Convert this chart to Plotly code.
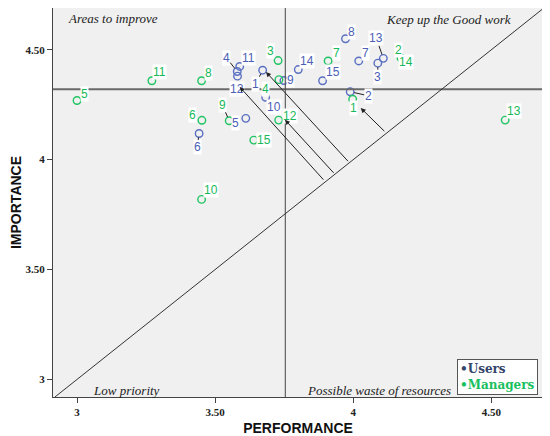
import plotly.graph_objects as go

# ---------------- data ----------------
item_ids = [str(i) for i in range(1, 16)]

users_performance = [3.672, 3.989, 4.089, 3.580, 3.611, 3.442, 4.020, 3.972,
                     3.749, 3.683, 3.589, 3.581, 4.109, 3.801, 3.889]
users_importance = [4.407, 4.309, 4.439, 4.401, 4.188, 4.119, 4.449, 4.550,
                    4.360, 4.284, 4.424, 4.380, 4.461, 4.410, 4.359]

managers_performance = [3.998, 4.173, 3.728, 3.731, 3.000, 3.452, 3.909, 3.451,
                        3.551, 3.451, 3.271, 3.730, 4.550, 4.191, 3.640]
managers_importance = [4.275, 4.463, 4.451, 4.364, 4.269, 4.179, 4.449, 4.359,
                       4.177, 3.819, 4.359, 4.180, 4.180, 4.444, 4.089]

performance_mean = 3.754
importance_mean = 4.32

# arrows: from the iso-priority diagonal to a point (tail x, tail y, head x, head y)
arrow_tail_x = [4.118, 3.934, 3.897, 3.986]
arrow_tail_y = [4.123, 3.933, 3.902, 3.986]
arrow_head_x = [4.027, 3.7525, 3.589, 3.684]
arrow_head_y = [4.235, 4.182, 4.331, 4.399]

x_tick_vals = [3, 3.5, 4, 4.5]
x_tick_text = ["3", "3.50", "4", "4.50"]
y_tick_vals = [3, 3.5, 4, 4.5]
y_tick_text = ["3", "3.50", "4", "4.50"]

quadrant_texts = ["Areas to improve", "Keep up the Good work",
                  "Low priority", "Possible waste of resources"]

# ---------------- styling ----------------
BLUE = "#5a6fc2"
BLUE_TXT = "#4b60b5"
GREEN = "#20c463"
GREEN_TXT = "#17b85a"

X_RANGE = [2.913, 4.687]
Y_RANGE = [2.92, 4.69]

# label offsets in pixels (dx, dy, leader line)
users_label_style = {
    "1": (-7, 14, True), "2": (18, 4, True), "3": (0, 14, True),
    "4": (-11, -14, True), "5": (-10, 5, False), "6": (-2, 14, True),
    "7": (7, -8, False), "8": (6, -7, False), "9": (7, -1, False),
    "10": (8, 10, False), "11": (9, -8, False), "12": (-1, 13, False),
    "13": (-7, -20, True), "14": (9, -9, False), "15": (10, -9, False),
}
managers_label_style = {
    "1": (1, 9, False), "2": (-3, -8, True), "3": (-8, -10, False),
    "4": (-13, 9, False), "5": (7, -7, False), "6": (-9, -5, False),
    "7": (8, -8, False), "8": (7, -8, False), "9": (-7, -16, True),
    "10": (9, -9, False), "11": (8, -9, False), "12": (11, -4, False),
    "13": (9, -9, False), "14": (0, 0, False), "15": (10, 0, False),
}

fig = go.Figure()

fig.add_trace(go.Scatter(
    x=users_performance, y=users_importance, mode="markers", name="Users",
    marker=dict(symbol="circle-open", size=7.5, color=BLUE, line=dict(width=1.4, color=BLUE)),
    showlegend=False, hoverinfo="skip"))
fig.add_trace(go.Scatter(
    x=managers_performance, y=managers_importance, mode="markers", name="Managers",
    marker=dict(symbol="circle-open", size=7.5, color=GREEN, line=dict(width=1.4, color=GREEN)),
    showlegend=False, hoverinfo="skip"))

# reference lines
fig.add_shape(type="line", xref="x", yref="y", x0=X_RANGE[0], x1=X_RANGE[1],
              y0=importance_mean, y1=importance_mean, line=dict(color="#6a6a6a", width=2))
fig.add_shape(type="line", xref="x", yref="y", x0=performance_mean, x1=performance_mean,
              y0=Y_RANGE[0], y1=Y_RANGE[1], line=dict(color="#444444", width=1))
fig.add_shape(type="line", xref="x", yref="y", x0=Y_RANGE[0], y0=Y_RANGE[0],
              x1=X_RANGE[1], y1=X_RANGE[1], line=dict(color="#333333", width=1))

annotations = []

# point labels
def add_labels(ids, xs, ys, style, color):
    for lab, x, y in zip(ids, xs, ys):
        dx, dy, leader = style[lab]
        annotations.append(dict(
            x=x, y=y, xref="x", yref="y", text=lab, showarrow=True,
            ax=dx, ay=dy, arrowhead=0, arrowwidth=1,
            arrowcolor="#222222" if leader else "rgba(0,0,0,0)",
            standoff=4, startstandoff=0,
            font=dict(family="Liberation Sans, Arial", size=12, color=color),
            bgcolor="white", borderpad=0))

add_labels(item_ids, users_performance, users_importance, users_label_style, BLUE_TXT)
add_labels(item_ids, managers_performance, managers_importance, managers_label_style, GREEN_TXT)

# arrows
for tx, ty, hx, hy in zip(arrow_tail_x, arrow_tail_y, arrow_head_x, arrow_head_y):
    annotations.append(dict(
        x=hx, y=hy, ax=tx, ay=ty, xref="x", yref="y", axref="x", ayref="y",
        text="", showarrow=True, arrowhead=2, arrowsize=1, arrowwidth=1,
        arrowcolor="#222222"))

# quadrant texts
qfont = dict(family="Liberation Serif, Times New Roman, serif", size=13, color="#222222")
annotations += [
    dict(xref="paper", yref="paper", x=0.027, y=0.972, xanchor="left", yanchor="middle",
         text="<i>%s</i>" % quadrant_texts[0], showarrow=False, font=qfont),
    dict(xref="paper", yref="paper", x=0.939, y=0.970, xanchor="right", yanchor="middle",
         text="<i>%s</i>" % quadrant_texts[1], showarrow=False, font=qfont),
    dict(xref="paper", yref="paper", x=0.078, y=0.016, xanchor="left", yanchor="middle",
         text="<i>%s</i>" % quadrant_texts[2], showarrow=False, font=qfont),
    dict(xref="paper", yref="paper", x=0.514, y=0.016, xanchor="left", yanchor="middle",
         text="<i>%s</i>" % quadrant_texts[3], showarrow=False, font=qfont),
]

# legend box
annotations.append(dict(
    xref="paper", yref="paper", x=0.990, y=0.005, xanchor="right", yanchor="bottom",
    align="left", showarrow=False,
    text="<b><span style='color:#34456a'>•Users</span></b><br>"
         "<b><span style='color:#18c060'>•Managers</span></b>",
    font=dict(family="DejaVu Serif, serif", size=12),
    bgcolor="white", bordercolor="#555555", borderwidth=1, borderpad=2))

tickfont = dict(family="Liberation Serif, serif", size=11, color="#222222", weight="bold")

# the page body adds an 8px offset, so the figure is sized to fit the 550x436 window
fig.update_layout(
    width=542, height=428,
    margin=dict(l=45, r=7, t=0, b=39),
    paper_bgcolor="white", plot_bgcolor="#f0f0f0",
    annotations=annotations,
    xaxis=dict(range=X_RANGE, tickvals=x_tick_vals, ticktext=x_tick_text,
               showgrid=False, zeroline=False, showline=True, mirror=True,
               linecolor="#444444", linewidth=1, ticks="outside", ticklen=5,
               tickcolor="#444444", automargin=False, tickfont=tickfont,
               title=dict(text="<b>PERFORMANCE</b>", standoff=6,
                          font=dict(family="Liberation Sans, Arial", size=14, color="#111111"))),
    yaxis=dict(range=Y_RANGE, tickvals=y_tick_vals, ticktext=y_tick_text,
               showgrid=False, zeroline=False, showline=True, mirror=True,
               linecolor="#444444", linewidth=1, ticks="outside", ticklen=5,
               tickcolor="#444444", automargin=False, tickfont=tickfont,
               title=dict(text="<b>IMPORTANCE</b>", standoff=4,
                          font=dict(family="Liberation Sans, Arial", size=14, color="#111111"))),
)

fig.write_html("out.html")
